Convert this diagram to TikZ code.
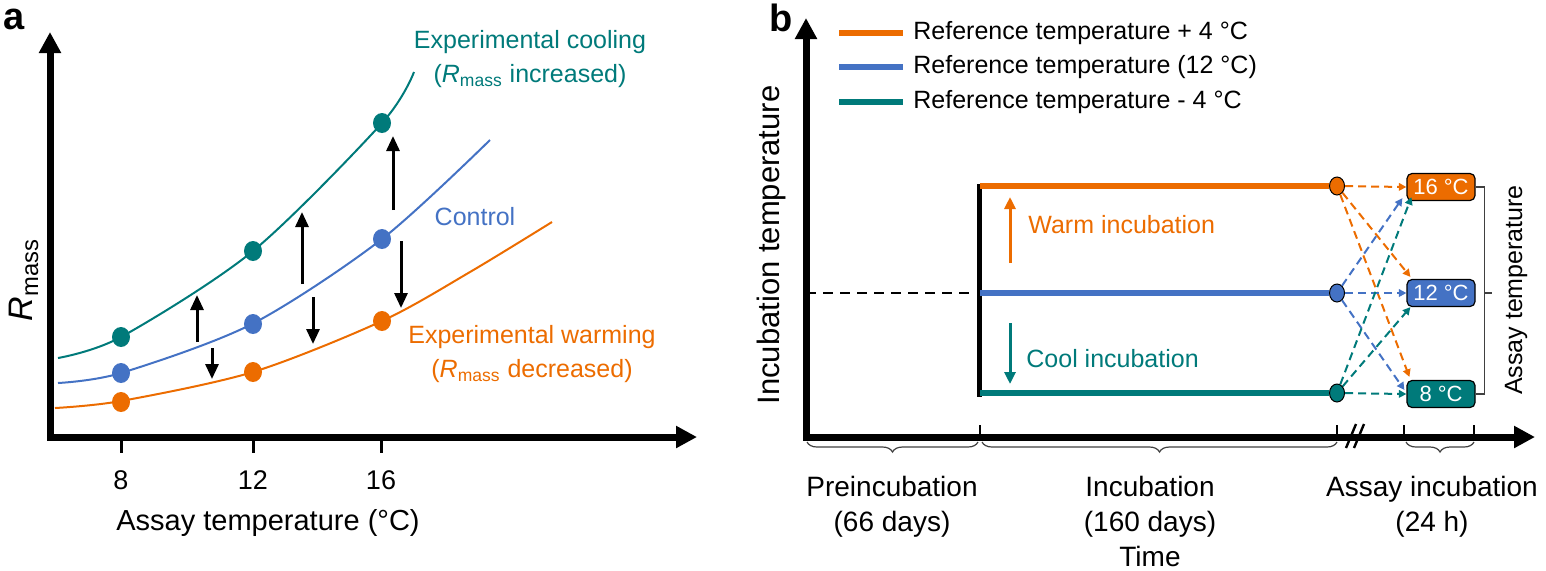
\documentclass[tikz,border=0pt]{standalone}
\usepackage{fontspec}
\setmainfont{Liberation Sans}
\usepackage{tikz}
\usetikzlibrary{arrows.meta, positioning, shapes.geometric, decorations.pathreplacing}
\definecolor{warmOrange}{HTML}{EC6C00}
\definecolor{ctrlBlue}{HTML}{4472C4}
\definecolor{coolTeal}{HTML}{007A7A}
\newcommand{\Rmass}{\textit{R}\textsubscript{mass}}

\begin{document}
\begin{tikzpicture}[x=0.5pt, y=-0.5pt, >=Triangle]
    \tikzset{
        axisline/.style={line width=3.5pt, line join=miter, {Triangle[length=10.5pt,width=10.5pt]}-{Triangle[length=10.5pt,width=10.5pt]}},
        curve/.style={line width=1pt},
        dot/.style={ellipse, minimum width=9pt, minimum height=10pt, inner sep=0pt, fill=#1},
        shiftarrow/.style={line width=1.5pt, -{Triangle[length=7.5pt,width=6.5pt]}},
        lbl/.style={font=\fontsize{12.5}{16}\selectfont, inner sep=0pt},
        ticklbl/.style={font=\fontsize{13.5}{16}\selectfont, inner sep=0pt},
        panel/.style={font=\fontsize{19}{22}\selectfont\bfseries, inner sep=0pt},
        axislbl/.style={font=\fontsize{14.5}{18}\selectfont, inner sep=0pt},
        phase/.style={font=\fontsize{14}{17.5}\selectfont, align=center, inner sep=0pt},
        ring/.style={ellipse, draw=black, line width=0.5pt, minimum width=7.5pt, minimum height=9pt, inner sep=0pt, fill=#1},
        tbox/.style={draw=black, line width=0.6pt, rounded corners=2.5pt, minimum width=34pt, minimum height=13.5pt, inner sep=0pt, text=white, font=\fontsize{11}{12}\selectfont, fill=#1},
        linkarrow/.style={line width=1pt, dash pattern=on 4pt off 2.5pt, -{Triangle[length=3.8pt,width=3.8pt]}, draw=#1},
        templine/.style={line width=3pt, draw=#1},
        brace/.style={decorate, decoration={brace, mirror, amplitude=5pt}, line width=0.6pt, draw=black!75}
    }
    \useasboundingbox (0,0) rectangle (1546,570);

    %% panel a
    \node[panel] (pa) at (14,19) {a};
    \draw[axisline] (50,32) -- (50,437) -- (697,437);
    \foreach \x/\lab in {121/8, 253/12, 381/16} {
        \draw[line width=1.5pt] (\x,437) -- (\x,453);
        \node[ticklbl] (tick\lab) at (\x,480) {\lab};
    }
    \node[axislbl] (xlbl) at (268,523) {Assay temperature (°C)};
    \node[axislbl, font=\fontsize{17}{18}\selectfont, rotate=90] (ylbl) at (24,280) {\Rmass};

    % curves
    \draw[curve, coolTeal] plot[smooth, tension=0.5] coordinates
        {(58,358) (121,337) (253,251) (382,123) (414,72)};
    \draw[curve, ctrlBlue] plot[smooth, tension=0.5] coordinates
        {(58,383) (121,373) (252,324) (382,239) (490,140)};
    \draw[curve, warmOrange] plot[smooth, tension=0.5] coordinates
        {(55,408) (121,401) (253,372) (382,321) (470,272) (552,222)};

    \foreach \x/\yc/\yw/\yb/\lab in {121/337/402/373/8, 253/251/372/324/12, 382/123/321/239/16} {
        \node[dot=coolTeal] (cool\lab) at (\x,\yc) {};
        \node[dot=ctrlBlue] (ctrl\lab) at (\x,\yb) {};
        \node[dot=warmOrange] (warm\lab) at (\x,\yw) {};
    }

    % shifts
    \draw[shiftarrow] (197,342) -- (197,295);
    \draw[shiftarrow] (212,348) -- (212,379);
    \draw[shiftarrow] (302,284) -- (302,212);
    \draw[shiftarrow] (313,297) -- (313,344);
    \draw[shiftarrow] (393,210) -- (393,136);
    \draw[shiftarrow] (401,241) -- (401,308);

    \node[lbl, coolTeal, align=center] (coollbl) at (530,59) {Experimental cooling\\[1pt](\Rmass{} increased)};
    \node[lbl, ctrlBlue] (ctrllbl) at (475,217) {Control};
    \node[lbl, warmOrange, align=center] (warmlbl) at (532,354) {Experimental warming\\[1pt](\Rmass{} decreased)};

    %% panel b
    \node[panel] (pb) at (781,18) {b};
    \draw[axisline] (806,18) -- (806,437) -- (1535,437);
    \node[font=\fontsize{15.5}{18}\selectfont, rotate=90, inner sep=0pt] (inclbl) at (771,245) {Incubation temperature};

    % legend
    \foreach \y/\c/\lab in {33/warmOrange/{Reference temperature + 4 °C}, 67/ctrlBlue/{Reference temperature (12 °C)}, 102/coolTeal/{Reference temperature - 4 °C}} {
        \draw[templine=\c] (839,\y) -- (903,\y);
        \node[lbl, anchor=west] (leg\y) at (913,\y) {\lab};
    }

    % incubation lines
    \draw[line width=2.5pt] (979,184) -- (979,397);
    \draw[line width=1pt, dash pattern=on 5pt off 3.5pt] (806,293) -- (975,293);
    \node[ring=warmOrange] (c16) at (1337,186) {};
    \node[ring=ctrlBlue] (c12) at (1337,293) {};
    \node[ring=coolTeal] (c8) at (1337,393) {};
    \draw[templine=warmOrange] (980,186) -- (c16.west);
    \draw[templine=ctrlBlue] (980,293) -- (c12.west);
    \draw[templine=coolTeal] (980,393) -- (c8.west);

    \draw[line width=1.5pt, warmOrange, -{Triangle[length=6pt,width=5.5pt]}] (1010,263) -- (1010,197);
    \node[lbl, warmOrange, anchor=west] (warminc) at (1028,225) {Warm incubation};
    \draw[line width=1.5pt, coolTeal, -{Triangle[length=6pt,width=5.5pt]}] (1010,323) -- (1010,384);
    \node[lbl, coolTeal, anchor=west] (coolinc) at (1026,359) {Cool incubation};

    % assay boxes
    \node[tbox=warmOrange] (b16) at (1441,187) {16 °C};
    \node[tbox=ctrlBlue] (b12) at (1441,293) {12 °C};
    \node[tbox=coolTeal] (b8) at (1441,394) {8 °C};

    \draw[linkarrow=warmOrange] (c16) -- (b16.west);
    \draw[linkarrow=warmOrange] (c16) -- ([xshift=2pt,yshift=1pt]b12.north west);
    \draw[linkarrow=warmOrange] (c16) -- ([xshift=1.5pt,yshift=1.5pt]b8.north west);
    \draw[linkarrow=ctrlBlue] (c12) -- ([xshift=-2pt,yshift=1.5pt]b16.south west);
    \draw[linkarrow=ctrlBlue] (c12) -- (b12.west);
    \draw[linkarrow=ctrlBlue] (c12) -- ([xshift=-1pt,yshift=2pt]b8.west);
    \draw[linkarrow=coolTeal] (c8) -- ([xshift=2.5pt,yshift=2pt]b16.south west);
    \draw[linkarrow=coolTeal] (c8) -- ([xshift=2pt]b12.south west);
    \draw[linkarrow=coolTeal] (c8) -- (b8.west);

    \draw[line width=0.6pt, black!75] (b16.east) -- ++(9,0) coordinate (bk) |- (b8.east);
    \draw[line width=0.6pt, black!75] (bk |- b12.east) -- ++(7,0);
    \node[lbl, rotate=90] (assaylbl) at (1516,290) {Assay temperature};

    % time axis
    \foreach \x in {980, 1337, 1404, 1474}
        \draw[line width=1.2pt] (\x,425) -- (\x,437);
    \draw[line width=1.2pt] (1346,448) -- (1356,424);
    \draw[line width=1.2pt] (1354,448) -- (1364,424);
    \draw[brace] (807,442) -- (978,442);
    \draw[brace] (982,442) -- (1337,442);
    \draw[brace] (1406,442) -- (1474,442);

    \node[phase] (prelbl) at (892,507) {Preincubation\\(66 days)};
    \node[phase] (inclbl2) at (1150,521) {Incubation\\(160 days)\\Time};
    \node[phase] (assayinc) at (1432,507) {Assay incubation\\(24 h)};
\end{tikzpicture}
\end{document}
